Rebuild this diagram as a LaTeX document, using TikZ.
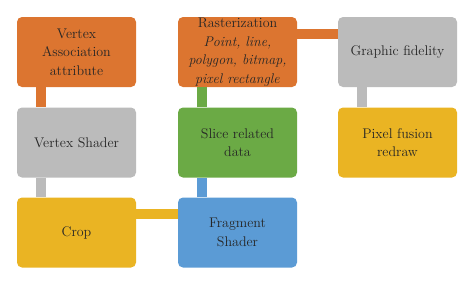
\documentclass[tikz,border=0pt]{standalone}
\definecolor{corange}{HTML}{DC7530}
\definecolor{cgray}{HTML}{BBBBBB}
\definecolor{cgreen}{HTML}{6BAA45}
\definecolor{cblue}{HTML}{5B9BD5}
\definecolor{cyellow}{HTML}{EAB423}
\definecolor{ctext}{HTML}{262626}
\tikzset{
  box/.style={rounded corners=5pt, minimum width=119pt, minimum height=70pt,
    inner sep=0pt, align=center, text=ctext,
    font=\rmfamily\fontsize{14}{18.5}\selectfont},
  bar/.style={line width=10pt, line cap=butt}
}
\begin{document}
\begin{tikzpicture}[x=1pt,y=1pt]
\useasboundingbox (0,0) rectangle (474,285);
\node[box, fill=corange] (va) at (76.5,233) {Vertex\\Association\\attribute};
\node[box, fill=corange] (ra) at (237.5,233) {Rasterization\\\textit{Point, line,}\\\textit{polygon, bitmap,}\\\textit{pixel rectangle}};
\node[box, fill=cgray] (gf) at (397.5,233) {Graphic fidelity};
\node[box, fill=cgray] (vs) at (76.5,142.5) {Vertex Shader};
\node[box, fill=cgreen] (sl) at (237.5,142.5) {Slice related\\data};
\node[box, fill=cyellow] (pf) at (397.5,142.5) {Pixel fusion\\redraw};
\node[box, fill=cyellow] (cr) at (76.5,52.5) {Crop};
\node[box, fill=cblue] (fs) at (237.5,52.5) {Fragment\\Shader};
\draw[bar, corange] ([xshift=-35.5pt]va.south) -- ([xshift=-35.5pt]vs.north);
\draw[bar, cgray] ([xshift=-35.5pt]vs.south) -- ([xshift=-35.5pt]cr.north);
\draw[bar, cyellow] ([yshift=18.5pt]cr.east) -- ([yshift=18.5pt]fs.west);
\draw[bar, cblue] ([xshift=-35.5pt]fs.north) -- ([xshift=-35.5pt]sl.south);
\draw[bar, cgreen] ([xshift=-35.5pt]sl.north) -- ([xshift=-35.5pt]ra.south);
\draw[bar, corange] ([yshift=18pt]ra.east) -- ([yshift=18pt]gf.west);
\draw[bar, cgray] ([xshift=-36pt]gf.south) -- ([xshift=-36pt]pf.north);
\end{tikzpicture}
\end{document}
